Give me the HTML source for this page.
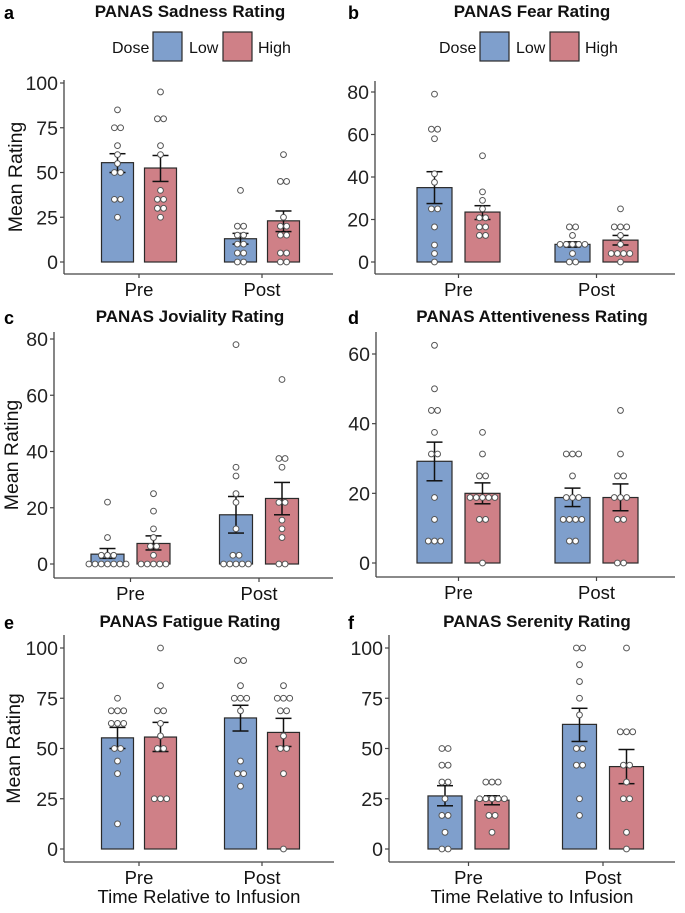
<!DOCTYPE html>
<html><head><meta charset="utf-8"><style>
html,body{margin:0;padding:0;background:#fff}
svg{display:block;font-family:"Liberation Sans",Arial,sans-serif}
</style></head><body>
<svg id="fig" width="685" height="913" viewBox="0 0 685 913"></svg>
<script>
// order for each panel: [Pre-Low, Pre-High, Post-Low, Post-High]
const groups = ["Pre","Post"];
const doses = ["Low","High"];

const sadMeans = [55.5, 52.5, 13, 23];
const sadSeLo = [50, 45, 10, 17];
const sadSeHi = [60.5, 59.5, 16, 28.5];
const sadPoints = [[85,75,75,65,60,55,50,50,35,35,25],[95,80,80,65,60,40,35,35,30,30,25],[40,20,20,15,15,10,10,5,5,0,0],[60,45,45,25,20,20,15,15,5,5,0,0]];
const sadTicks = [0,25,50,75,100];

const fearMeans = [35, 23.5, 8.3, 10.3];
const fearSeLo = [27.5, 20, 7, 8];
const fearSeHi = [42.5, 26.5, 9.5, 12.5];
const fearPoints = [[79,62.5,62.5,58,41.5,37.5,25,25,16.5,8,4,0],[50,33,29,25,20.8,20.8,16.5,16.5,12.5,12.5],[16.5,16.5,12.5,8.3,8.3,8.3,8.3,8.3,4,0,0],[25,16.5,16.5,16.5,12.5,8.3,4,4,4,4,0]];
const fearTicks = [0,20,40,60,80];

const jovMeans = [3.5, 7.3, 17.5, 23.3];
const jovSeLo = [2, 5, 11, 17.5];
const jovSeHi = [5.5, 10, 24, 29];
const jovPoints = [[22,9.4,3.1,3.1,3.1,0,0,0,0,0,0,0],[25,18.8,12.5,9.4,6.3,6.3,3.1,0,0,0,0,0],[78,34.4,31.3,25,21.9,12.5,3.1,3.1,0,0,0,0,0],[65.6,37.5,37.5,34.4,21.9,21.9,15.6,12.5,9.4,0,0]];
const jovTicks = [0,20,40,60,80];

const attMeans = [29.2, 20, 18.8, 18.8];
const attSeLo = [23.6, 17, 16.2, 15];
const attSeHi = [34.7, 23, 21.5, 22.7];
const attPoints = [[62.5,50,43.8,43.8,37.5,31.3,31.3,18.8,12.5,6.3,6.3,6.3],[37.5,31.3,25,25,18.8,18.8,18.8,18.8,18.8,12.5,12.5,0],[31.3,31.3,31.3,25,18.8,18.8,18.8,12.5,12.5,12.5,12.5,6.3,6.3],[43.8,31.3,25,25,18.8,18.8,18.8,12.5,12.5,0,0]];
const attTicks = [0,20,40,60];

const fatMeans = [55.3, 55.7, 65.2, 58];
const fatSeLo = [50, 48.5, 58.7, 51];
const fatSeHi = [60.5, 63, 71.5, 65];
const fatPoints = [[75,68.75,68.75,68.75,62.5,62.5,62.5,50,50,43.75,37.5,12.5],[100,81.25,68.75,68.75,62.5,56.25,50,50,25,25,25],[93.75,93.75,81.25,75,75,75,68.75,43.75,37.5,37.5,31.25],[81.25,75,75,75,68.75,68.75,56.25,50,50,37.5,0]];
const fatTicks = [0,25,50,75,100];

const serMeans = [26.4, 24.3, 62, 41];
const serSeLo = [21.5, 22, 53.5, 32.5];
const serSeHi = [31.5, 26.5, 70, 49.5];
const serPoints = [[50,50,41.7,41.7,33.3,33.3,25,16.7,16.7,8.3,0,0],[33.3,33.3,33.3,25,25,25,25,25,16.7,16.7,8.3],[100,100,91.7,83.3,75,66.7,50,50,41.7,41.7,25,16.7],[100,58.3,58.3,58.3,41.7,41.7,33.3,25,25,8.3,0]];
const serTicks = [0,25,50,75,100];

const NS="http://www.w3.org/2000/svg";
const svg=document.getElementById('fig');
function mk(tag,attrs,parent){const e=document.createElementNS(NS,tag);for(const k in attrs)e.setAttribute(k,attrs[k]);(parent||svg).appendChild(e);return e;}
function txt(s,attrs,parent){const e=mk('text',attrs,parent);e.textContent=s;return e;}

const fills=["#7f9fcc","#cf8087"];

function panel(cfg){
  const g=mk('g',{});
  
  
  const tmax=cfg.ticks[cfg.ticks.length-1];
  const y=v=>cfg.y0-(v/tmax)*(cfg.y0-cfg.yTop);
  const L=txt(cfg.letter,{x:cfg.letterX,y:cfg.titleY+3,'font-size':18,'font-weight':'bold',fill:'#000'},g);
  
  
  const T=txt(cfg.title,{x:cfg.titleX,y:cfg.titleY+1,'font-size':17,'font-weight':'bold','text-anchor':'middle',fill:'#111'},g);
  
  
  const ya=mk('line',{x1:cfg.ax,x2:cfg.ax,y1:cfg.axTop,y2:cfg.xAxisY,stroke:'#444','stroke-width':1.3},g);
  
  
  const xa=mk('line',{x1:cfg.ax,x2:cfg.axEnd,y1:cfg.xAxisY,y2:cfg.xAxisY,stroke:'#444','stroke-width':1.3},g);
  
  
  cfg.ticks.forEach(t=>{
    mk('line',{x1:cfg.ax-4,x2:cfg.ax,y1:y(t),y2:y(t),stroke:'#444','stroke-width':1.2},g);
    const tl=txt(String(t),{x:cfg.ax-6,y:y(t)+7,'font-size':19.5,'text-anchor':'end',fill:'#222'},g);
    
    
  });
  if(cfg.ylabel){
    const yl=txt('Mean Rating',{x:0,y:0,'font-size':19.5,'text-anchor':'middle',fill:'#111',transform:`translate(${cfg.ylabelX},${(cfg.axTop+cfg.xAxisY)/2}) rotate(-90)`},g);
    
    
  }
  groups.forEach((grp,gi)=>{
    const cx=cfg.centers[gi];
    mk('line',{x1:cx,x2:cx,y1:cfg.xAxisY,y2:cfg.xAxisY+4,stroke:'#444','stroke-width':1.2},g);
    const xl=txt(grp,{x:cx,y:cfg.xAxisY+22,'font-size':18.5,'text-anchor':'middle',fill:'#111'},g);
    
    
    doses.forEach((d,di)=>{
      const i=gi*2+di;
      const bx=cx+(di===0?-cfg.off:cfg.off);
      const m=cfg.means[i];
      const r=mk('rect',{x:bx-cfg.bw/2,y:y(m),width:cfg.bw,height:cfg.y0-y(m),fill:fills[di],stroke:'#2a2a2a','stroke-width':1.2},g);
      
      
      const eg=mk('g',{stroke:'#111','stroke-width':1.5},g);
      
      
      mk('line',{x1:bx,x2:bx,y1:y(cfg.lo[i]),y2:y(cfg.hi[i])},eg);
      mk('line',{x1:bx-8,x2:bx+8,y1:y(cfg.lo[i]),y2:y(cfg.lo[i])},eg);
      mk('line',{x1:bx-8,x2:bx+8,y1:y(cfg.hi[i]),y2:y(cfg.hi[i])},eg);
      const counts={};cfg.pts[i].forEach(v=>counts[v]=(counts[v]||0)+1);
      const seen={};
      cfg.pts[i].forEach(v=>{
        const n=counts[v];const k=(seen[v]=(seen[v]||0)+1)-1;
        const px=bx+(k-(n-1)/2)*6.2;
        const c=mk('circle',{cx:px,cy:y(v),r:2.9,fill:'#fff',stroke:'#555','stroke-width':1},g);
        
        
      });
    });
  });
  if(cfg.xtitle){
    const xt=txt('Time Relative to Infusion',{x:(cfg.ax+cfg.axEnd)/2,y:cfg.xAxisY+41,'font-size':18.5,'text-anchor':'middle',fill:'#111'},g);
    
    
  }
  if(cfg.legendX!==undefined){
    const lg=mk('g',{},g);
    
    
    const lx=cfg.legendX;
    txt('Dose',{x:lx,y:53,'font-size':16,fill:'#111'},lg);
    const e1=mk('rect',{x:lx+41,y:32,width:29,height:29,fill:fills[0],stroke:'#2a2a2a','stroke-width':1.2},lg);
    
    
    txt('Low',{x:lx+77,y:53,'font-size':16,fill:'#111'},lg);
    const e2=mk('rect',{x:lx+111,y:32,width:29,height:29,fill:fills[1],stroke:'#2a2a2a','stroke-width':1.2},lg);
    
    
    txt('High',{x:lx+146,y:53,'font-size':16,fill:'#111'},lg);
  }
}

panel({letter:'a',letterX:4,title:'PANAS Sadness Rating',titleX:190,titleY:16,ax:64,axTop:80,axEnd:333,xAxisY:274,y0:262,yTop:83,ticks:sadTicks,centers:[139,262],off:21.5,bw:32,means:sadMeans,lo:sadSeLo,hi:sadSeHi,pts:sadPoints,ylabel:true,ylabelX:22,legendX:112});
panel({letter:'b',letterX:348,title:'PANAS Fear Rating',titleX:532,titleY:16,ax:375,axTop:81,axEnd:675,xAxisY:274,y0:262,yTop:92,ticks:fearTicks,centers:[458.5,596.5],off:24,bw:35,means:fearMeans,lo:fearSeLo,hi:fearSeHi,pts:fearPoints,legendX:439});
panel({letter:'c',letterX:4,title:'PANAS Joviality Rating',titleX:190,titleY:321,ax:54,axTop:332,axEnd:333,xAxisY:578,y0:564,yTop:339,ticks:jovTicks,centers:[130.5,259],off:23,bw:33,means:jovMeans,lo:jovSeLo,hi:jovSeHi,pts:jovPoints,ylabel:true,ylabelX:18});
panel({letter:'d',letterX:348,title:'PANAS Attentiveness Rating',titleX:532,titleY:321,ax:376,axTop:332,axEnd:675,xAxisY:577,y0:563,yTop:354,ticks:attTicks,centers:[458.5,596.5],off:24,bw:35,means:attMeans,lo:attSeLo,hi:attSeHi,pts:attPoints});
panel({letter:'e',letterX:4,title:'PANAS Fatigue Rating',titleX:190,titleY:626,ax:64,axTop:635,axEnd:334,xAxisY:862,y0:849,yTop:648,ticks:fatTicks,centers:[139,262],off:21.5,bw:32,means:fatMeans,lo:fatSeLo,hi:fatSeHi,pts:fatPoints,ylabel:true,ylabelX:20,xtitle:true});
panel({letter:'f',letterX:348,title:'PANAS Serenity Rating',titleX:537,titleY:626,ax:389,axTop:635,axEnd:675,xAxisY:862,y0:849,yTop:648,ticks:serTicks,centers:[468.5,603],off:23.5,bw:34,means:serMeans,lo:serSeLo,hi:serSeHi,pts:serPoints,xtitle:true});
</script>
</body></html>
